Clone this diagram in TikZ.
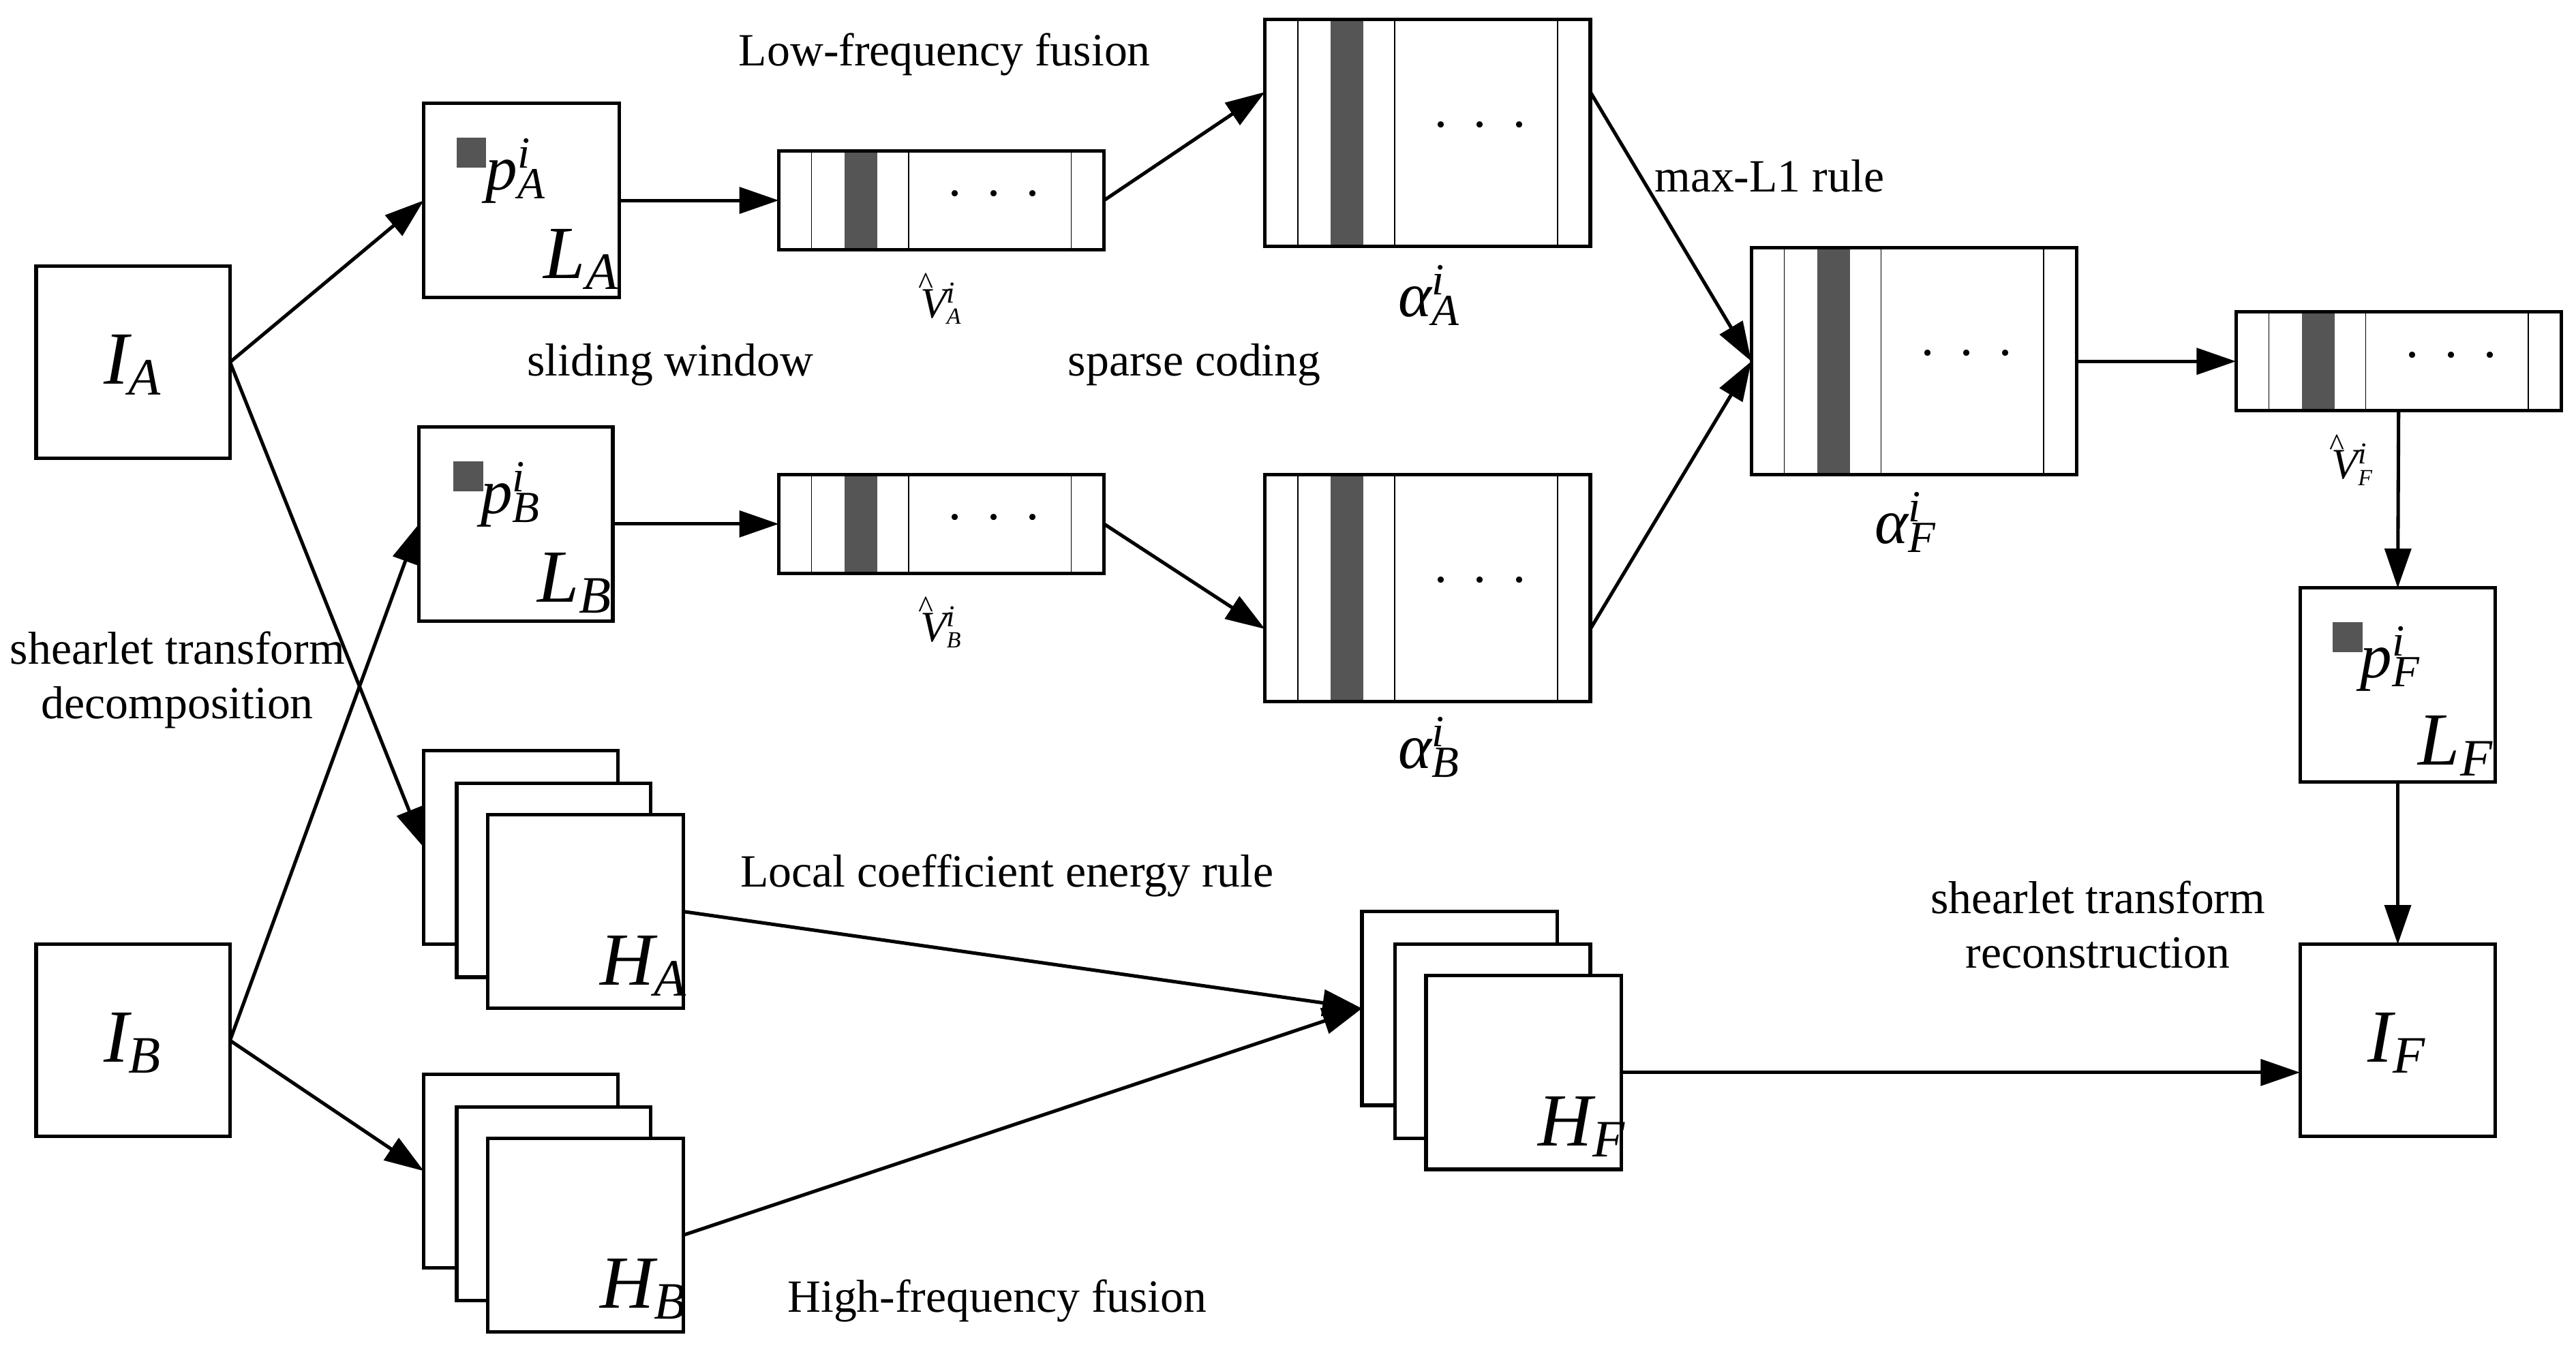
\documentclass[tikz,border=0pt]{standalone}
\usepackage{fontspec}
\setmainfont{Liberation Serif}
\usetikzlibrary{arrows.meta}
\definecolor{dg}{HTML}{555555}
\newcommand\mybox[6]{\node[box,minimum width={(#4-#2)*0.02cm},minimum height={(#5-#3)*0.02cm}] (#1) at ({(#2+#4)/2},{(#3+#5)/2}) {#6};}
\newcommand\strip[4]{%
 \mybox{#1}{#2}{#3}{#2+198}{#3+#4}{}
 \fill[dg] (#2+40,#3) rectangle (#2+60,#3+#4);
 \draw[thin] (#2+20,#3) -- (#2+20,#3+#4) (#2+79,#3) -- (#2+79,#3+#4) (#2+178,#3) -- (#2+178,#3+#4);
 \draw[line width=1.2pt] (#1.north west) rectangle (#1.south east);}
\newcommand\supsub[2]{\rlap{\textsuperscript{#1}}\textsubscript{#2}}
\newcommand\hatV[1]{\rlap{\raisebox{0.55em}{\kern-0.05em\fontsize{11}{11}\selectfont\upshape\^{}}}V\supsub{i}{\fontsize{8}{8}\selectfont #1}}
\begin{document}
\begin{tikzpicture}[x=0.02cm,y=-0.02cm,
 box/.style={draw,line width=1.2pt,fill=white,inner sep=0pt,outer sep=0pt},
 arr/.style={line width=1.2pt,-{Triangle[length=0.48cm,width=0.32cm]}},
 lbl/.style={font=\fontsize{16}{19}\selectfont,align=center},
 big/.style={font=\fontsize{26}{28}\selectfont\itshape},
 mid/.style={font=\fontsize{22}{24}\selectfont\itshape},
 sm/.style={font=\fontsize{15}{17}\selectfont\itshape},
 dots/.style={font=\fontsize{18}{20}\selectfont}]
\useasboundingbox (0,0) rectangle (1568,823);
% inputs
\mybox{IA}{22}{162}{140}{279}{}
\node[big] (tIA) at (81,222) {I\textsubscript{A}};
\mybox{IB}{22}{575}{140}{692}{}
\node[big] (tIB) at (81,635) {I\textsubscript{B}};
% low-frequency
\mybox{LA}{258}{63}{377}{181}{}
\fill[dg] (278,84) rectangle (296,102);
\node[mid] (pA) at (314,104) {p\supsub{i}{A}};
\node[big] (tLA) at (354,158) {L\textsubscript{A}};
\mybox{LB}{255}{260}{373}{378}{}
\fill[dg] (276,281) rectangle (294,299);
\node[mid] (pB) at (311,301) {p\supsub{i}{B}};
\node[big] (tLB) at (350,355) {L\textsubscript{B}};
\mybox{LF}{1400}{358}{1519}{476}{}
\fill[dg] (1420,379) rectangle (1438,397);
\node[mid] (pF) at (1455,401) {p\supsub{i}{F}};
\node[big] (tLF) at (1495,454) {L\textsubscript{F}};
\mybox{IF}{1400}{575}{1519}{692}{}
\node[big] (tIF) at (1459,635) {I\textsubscript{F}};
% strips
\strip{VA}{474}{92}{60}
\node[dots] (dVA) at (605,118) {.\ \ .\ \ .};
\strip{VB}{474}{289}{60}
\node[dots] (dVB) at (605,315) {.\ \ .\ \ .};
\strip{VF}{1361}{190}{60}
\node[dots] (dVF) at (1492,216) {.\ \ .\ \ .};
\strip{aA}{770}{12}{138}
\node[dots] (daA) at (901,76) {.\ \ .\ \ .};
\strip{aB}{770}{289}{138}
\node[dots] (daB) at (901,353) {.\ \ .\ \ .};
\strip{aF}{1066}{151}{138}
\node[dots] (daF) at (1197,215) {.\ \ .\ \ .};
% labels of strips
\node[sm] (lVA) at (573,182) {\hatV{A}};
\node[sm] (lVB) at (573,379) {\hatV{B}};
\node[sm] (lVF) at (1432,280) {\hatV{F}};
\node[mid] (laA) at (870,180) {α\supsub{i}{A}};
\node[mid] (laB) at (870,455) {α\supsub{i}{B}};
\node[mid] (laF) at (1160,318) {α\supsub{i}{F}};
% high-frequency stacks
\mybox{HA1}{258}{457}{376}{575}{}
\mybox{HA2}{278}{477}{396}{595}{}
\mybox{HA}{297}{496}{416}{614}{}
\node[big] (tHA) at (392,588) {H\textsubscript{A}};
\mybox{HB1}{258}{654}{376}{772}{}
\mybox{HB2}{278}{674}{396}{792}{}
\mybox{HB}{297}{693}{416}{811}{}
\node[big] (tHB) at (392,785) {H\textsubscript{B}};
\mybox{HF1}{829}{555}{948}{673}{}
\mybox{HF2}{849}{575}{968}{693}{}
\mybox{HF}{868}{594}{987}{712}{}
\node[big] (tHF) at (963,686) {H\textsubscript{F}};
% text labels
\node[lbl] (t1) at (575,33) {Low-frequency fusion};
\node[lbl] (t2) at (1077,107) {max-L1 rule};
\node[lbl] (t3) at (408,222) {sliding window};
\node[lbl] (t4) at (727,222) {sparse coding};
\node[lbl] (t5) at (108,414) {shearlet transform\\decomposition};
\node[lbl] (t6) at (613,533) {Local coefficient energy rule};
\node[lbl] (t7) at (607,792) {High-frequency fusion};
\node[lbl] (t8) at (1277,563) {shearlet transform\\reconstruction};
% connectors
\draw[arr] (IA.east) -- (LA.west);
\draw[arr] (IA.east) -- (HA1.west);
\draw[arr] (IB.east) -- (LB.west);
\draw[arr] (IB.east) -- (HB1.west);
\draw[arr] (LA.east) -- (VA.west);
\draw[arr] (LB.east) -- (VB.west);
\draw[arr] (VA.east) -- ([yshift=0.5cm]aA.west);
\draw[arr] (VB.east) -- ([yshift=-0.5cm]aB.west);
\draw[arr] ([yshift=0.5cm]aA.east) -- (aF.west);
\draw[arr] ([yshift=-0.5cm]aB.east) -- (aF.west);
\draw[arr] (aF.east) -- (VF.west);
\draw[arr] (VF.south) -- (LF.north);
\draw[arr] (LF.south) -- (IF.north);
\draw[arr] (HA.east) -- (HF1.west);
\draw[arr] (HB.east) -- (HF1.west);
\draw[arr] (HF.east) -- (HF.east -| IF.west);
\end{tikzpicture}
\end{document}
